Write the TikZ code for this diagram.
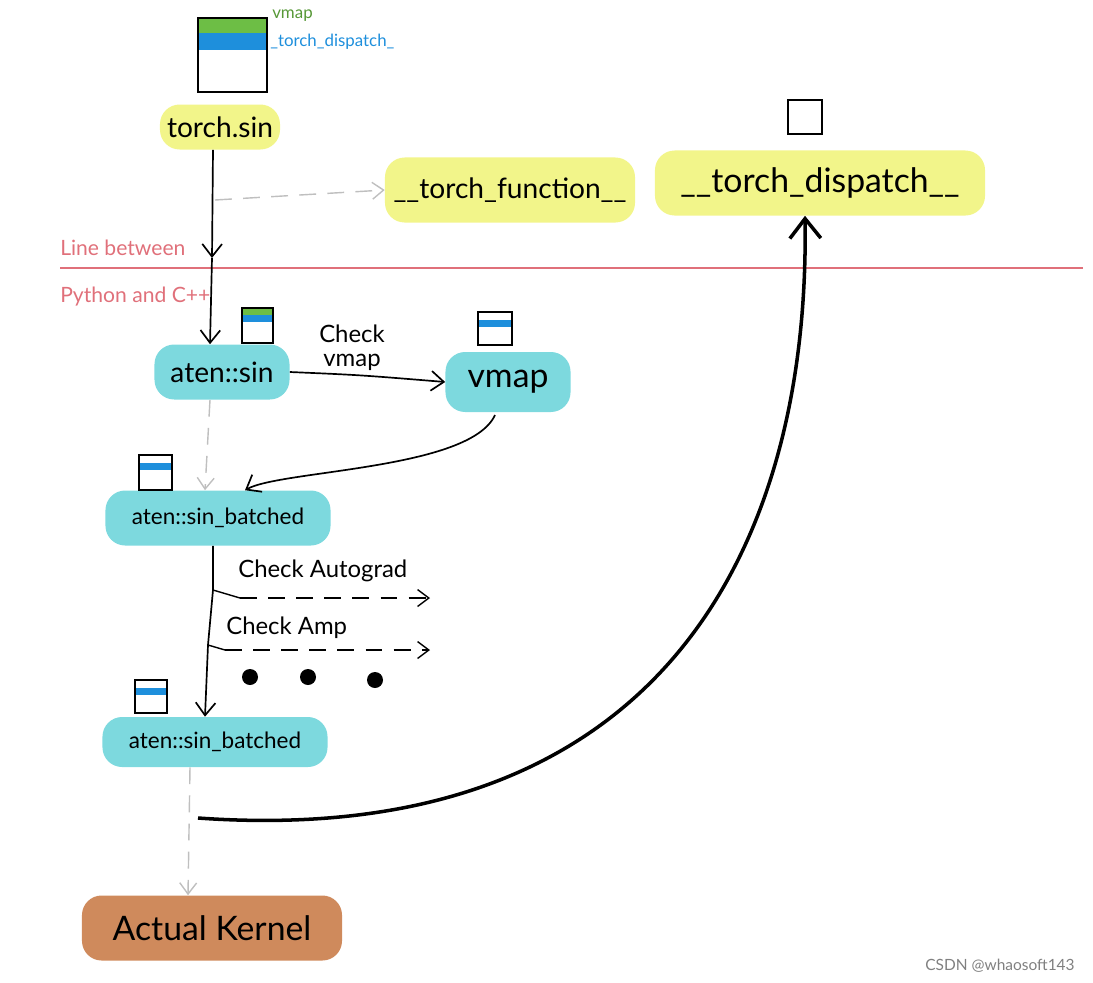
\documentclass[tikz,border=0pt]{standalone}
\usepackage{fontspec}
\setmainfont{Lato}
\usetikzlibrary{arrows.meta}
\definecolor{ylw}{HTML}{F2F58A}
\definecolor{cyn}{HTML}{7DD9DE}
\definecolor{brn}{HTML}{CF8A5C}
\definecolor{grn}{HTML}{6DBE45}
\definecolor{blu}{HTML}{1E8FDC}
\definecolor{rd}{HTML}{E0707A}
\begin{document}
\begin{tikzpicture}[x=0.025cm,y=-0.025cm,
  blob/.style={rounded corners=14pt,inner sep=0pt,font=\fontsize{20}{22}\selectfont},
  yb/.style={blob,fill=ylw},
  cb/.style={blob,fill=cyn},
  arr/.style={-{Straight Barb[length=9pt,width=14pt]},line width=1.2pt},
  garr/.style={-{Straight Barb[length=8pt,width=12pt]},gray!50,line width=1pt,dash pattern=on 12pt off 8pt},
  darr/.style={-{Straight Barb[length=8pt,width=12pt]},line width=1pt,dash pattern=on 12pt off 8pt}]
\useasboundingbox (0,0) rectangle (1093,982);
% top icon
\fill[white] (198,18) rectangle (267,92);
\fill[grn] (198,18) rectangle (267,33);
\fill[blu] (198,33) rectangle (267,50);
\draw[line width=1.3pt] (198,18) rectangle (267,92);
\node[anchor=west,text=grn!80!black,font=\fontsize{12}{12}\selectfont,inner sep=0pt] (lv) at (272,16) {vmap};
\node[anchor=west,text=blu,font=\fontsize{12}{12}\selectfont,inner sep=0pt] (ld) at (270,42) {\_torch\_dispatch\_};
% nodes
\node[yb,minimum width=3cm,minimum height=1.125cm] (ts) at (220,127) {torch.sin};
\node[yb,minimum width=6.25cm,minimum height=1.625cm] (tf) at (510,190) {\_\_torch\_function\_\_};
\node[yb,minimum width=8.25cm,minimum height=1.625cm,font=\fontsize{24}{26}\selectfont] (td) at (820,183) {\_\_torch\_dispatch\_\_};
\draw[line width=1.2pt] (788,100) rectangle (822,134);
% red line
\draw[rd,line width=1pt] (60,268) -- (1083,268);
\node[anchor=west,text=rd,font=\fontsize{15}{15}\selectfont,inner sep=0pt] (lb) at (60,248) {Line between};
\node[anchor=west,text=rd,font=\fontsize{15}{15}\selectfont,inner sep=0pt] (lp) at (60,297) {Python and C++};
\node[cb,minimum width=3.375cm,minimum height=1.375cm] (as) at (222,372) {aten::sin};
\node[cb,minimum width=3.125cm,minimum height=1.5cm,font=\fontsize{24}{26}\selectfont] (vm) at (508,382) {vmap};
\node[cb,minimum width=5.625cm,minimum height=1.375cm,font=\fontsize{16}{18}\selectfont] (sb1) at (218,518) {aten::sin\_batched};
\node[cb,minimum width=5.625cm,minimum height=1.25cm,font=\fontsize{16}{18}\selectfont] (sb2) at (215,742) {aten::sin\_batched};
\node[blob,fill=brn,minimum width=6.5cm,minimum height=1.625cm,font=\fontsize{24}{26}\selectfont] (ak) at (212,928) {Actual Kernel};
% icons
\fill[white] (242,308) rectangle (273,343);
\fill[grn] (242,308) rectangle (273,315);
\fill[blu] (242,315) rectangle (273,322);
\draw[line width=1.1pt] (242,308) rectangle (273,343);
\fill[blu] (479,320) rectangle (511,327); \draw[line width=1.1pt] (478,312) rectangle (512,345);
\fill[blu] (140,463) rectangle (171,470); \draw[line width=1.1pt] (139,455) rectangle (172,490);
\fill[blu] (136,688) rectangle (166,695); \draw[line width=1.1pt] (135,680) rectangle (167,713);
% connectors
\coordinate (lh) at (212,258);
\draw[arr] (ts.south -| 213,0) -- (lh);
\draw[arr] (lh) -- (as.north -| 210,0);
\coordinate (gs) at (215,200);
\draw[garr] (gs) -- (tf.west);
\node[align=center,font=\fontsize{17}{17}\selectfont,inner sep=0pt] (cv) at (352,348) {Check\\vmap};
\draw[arr] (as.east) .. controls (360,375) .. (vm.west);
\draw[arr] (495,415) .. controls (470,470) and (280,470) .. (sb1.north -| 245,0);
\draw[garr] (as.south -| 210,0) -- (sb1.north -| 205,0);
\coordinate (b1) at (213,590);
\coordinate (b2) at (208,645);
\draw[arr] (sb1.south -| 213,0) -- (b1) -- (b2) -- (sb2.north -| 205,0);
\draw[line width=1pt] (b1) -- (240,598);
\draw[darr] (240,598) -- (430,598);
\draw[line width=1pt] (b2) -- (225,650);
\draw[darr] (225,650) -- (430,650);
\node[anchor=west,font=\fontsize{17}{17}\selectfont,inner sep=0pt] (ca) at (238,571) {Check Autograd};
\node[anchor=west,font=\fontsize{17}{17}\selectfont,inner sep=0pt] (cm) at (226,628) {Check Amp};
\fill (250,677) circle (8); \fill (308,677) circle (8); \fill (375,680) circle (8);
\draw[garr] (sb2.south -| 190,0) -- (ak.north -| 188,0);
\draw[-{Straight Barb[length=14pt,width=22pt]},line width=2.5pt] (198,818) .. controls (650,850) and (810,560) .. (td.south -| 805,0);
\node[text=gray,font=\fontsize{11}{11}\selectfont] (wm) at (1000,966) {CSDN @whaosoft143};
\end{tikzpicture}
\end{document}
